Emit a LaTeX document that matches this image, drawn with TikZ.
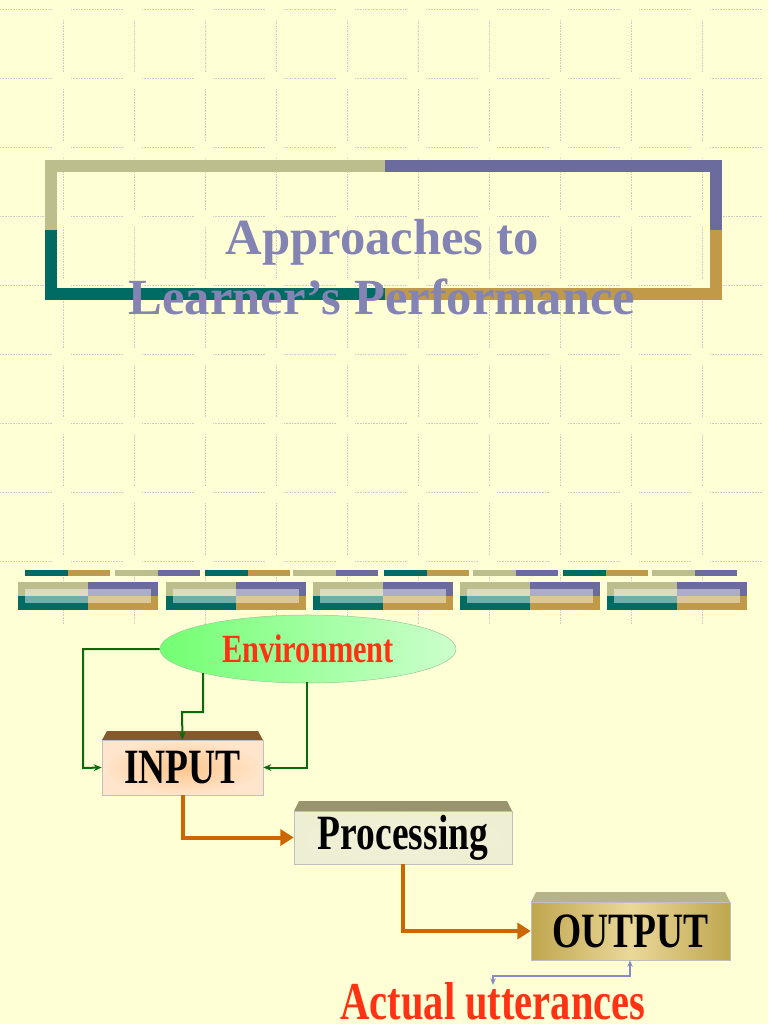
\documentclass[tikz,border=0pt]{standalone}
\usepackage{fontspec}
\setmainfont{Liberation Serif}
\usetikzlibrary{shapes.geometric,arrows.meta}
\definecolor{bgyellow}{HTML}{FFFFD6}
\definecolor{khaki}{HTML}{BDBE8E}
\definecolor{slate}{HTML}{6B6B9E}
\definecolor{teal}{HTML}{006B63}
\definecolor{ochre}{HTML}{C09A48}
\definecolor{titlecol}{HTML}{8484B4}
\definecolor{envred}{HTML}{FF3314}
\definecolor{darkgreen}{HTML}{0A6A0A}
\definecolor{rust}{HTML}{CC6600}
\definecolor{lilac}{HTML}{8A8AC4}
\definecolor{goldlight}{HTML}{EAD898}
\definecolor{golddark}{HTML}{BFA650}
\tikzset{
  gridline/.style={gray!40, line width=0.5pt, dash pattern=on 0.5pt off 0.7pt},
  boxtop/.style={fill=#1},
  block/.style={rectangle, draw=black!25, minimum height=#1, inner sep=0pt,
    font=\bfseries\fontsize{37}{40}\selectfont},
  envlink/.style={draw=darkgreen, line width=1.5pt, -{Stealth[length=6pt,width=5pt]}},
  flow/.style={draw=rust, line width=3pt, -{Triangle[length=10pt,width=12pt]}},
}
\newcommand{\narrow}[1]{\scalebox{0.76}[1]{#1}}
\begin{document}
\begin{tikzpicture}[x=0.75pt,y=-0.75pt]
  \fill[bgyellow] (0,0) rectangle (768,1024);
  \useasboundingbox (0,0) rectangle (768,1024);

  %% background grid
  \foreach \r in {0,...,8}{
    \foreach \c in {0,...,10}{
      \draw[gridline] (\c*71,9+\r*69) -- (\c*71+52,9+\r*69);
      \draw[gridline] (63+\c*71,20+\r*69) -- (63+\c*71,72+\r*69);
    }
  }

  %% title frame
  \draw[khaki, line width=9pt] (51,230) -- (51,166) -- (385,166);
  \draw[slate, line width=9pt] (385,166) -- (716,166) -- (716,230);
  \draw[ochre, line width=9pt] (716,230) -- (716,294) -- (385,294);
  \draw[teal, line width=9pt] (385,294) -- (51,294) -- (51,230);
  \node[text=titlecol, font=\bfseries\fontsize{38}{45}\selectfont, align=center]
    (title) at (382,267) {Approaches to\\Learner’s Performance};

  %% decorative bars
  \foreach \x [count=\i] in {25,115,205,293,384,473,563,652}{
    \ifodd\i
      \fill[teal] (\x,570) rectangle +(43,6);
      \fill[ochre] (\x+43,570) rectangle +(42,6);
    \else
      \fill[khaki] (\x,570) rectangle +(43,6);
      \fill[slate] (\x+43,570) rectangle +(42,6);
    \fi
  }
  \foreach \x in {18,166,313,460,607}{
    \fill[khaki] (\x,582) rectangle +(70,14);
    \fill[slate] (\x+70,582) rectangle +(70,14);
    \fill[teal] (\x,596) rectangle +(70,14);
    \fill[ochre] (\x+70,596) rectangle +(70,14);
    \fill[white, opacity=0.45] (\x+7,589) rectangle +(126,14);
  }

  %% diagram
  \node[ellipse, minimum width=222pt, minimum height=51pt, draw=green!50!black!40,
    left color=green!55!white, right color=green!20!white,
    text=envred, font=\bfseries\fontsize{30}{34}\selectfont] (env) at (308,649) {\narrow{Environment}};

  \fill[boxtop={brown!70!black}] (102,740) -- (107,731) -- (258,731) -- (263,740) -- cycle;
  \node[block=41.25pt, minimum width=120.75pt, inner color=orange!45, outer color=orange!20!white]
    (input) at (182.5,767.5) {\narrow{INPUT}};

  \fill[boxtop={black!55!olive!60}] (294,811) -- (299,801) -- (507,801) -- (512,811) -- cycle;
  \node[block=39.75pt, minimum width=163.5pt, inner color=black!8!olive!10, outer color=black!10!olive!12]
    (proc) at (403,837.5) {\narrow{Processing}};

  \fill[boxtop={black!45!olive!45}] (531,902) -- (536,892) -- (725,892) -- (730,902) -- cycle;
  \node[block=43.5pt, minimum width=149.25pt, left color=golddark, right color=golddark,
    middle color=goldlight]
    (output) at (630.5,931) {\narrow{OUTPUT}};

  \node[text=envred, font=\bfseries\fontsize{40}{44}\selectfont, inner sep=0pt] (actual) at (493,1001) {\narrow{Actual utterances}};

  %% lines
  \draw[envlink] (env.west) -| (83,768) -- (input.west);
  \draw[envlink] (203,673) |- (182,712) -- (input.north);
  \draw[envlink] (307,682) |- (input.east);
  \draw[flow] (input.south) |- (proc.west);
  \draw[flow] (proc.south) |- (output.west);
  \coordinate (utt) at (493,985);
  \draw[lilac, line width=1.5pt, {Stealth[length=5pt,width=4pt]}-{Stealth[length=5pt,width=4pt]}]
    (utt) |- (630,976) -- (output.south -| 630,960);
\end{tikzpicture}
\end{document}
